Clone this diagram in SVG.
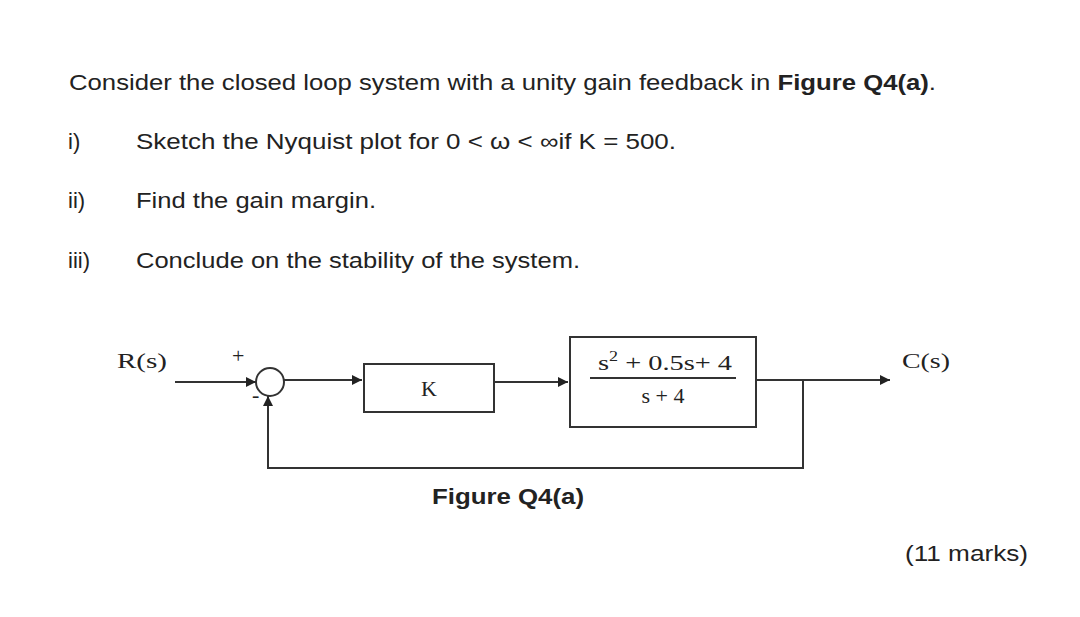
<svg xmlns="http://www.w3.org/2000/svg" width="1080" height="617" viewBox="0 0 1080 617">
<defs><marker id="a" viewBox="0 0 10 10" refX="10" refY="5" markerWidth="10" markerHeight="10" markerUnits="userSpaceOnUse" orient="auto"><path d="M0,0L10,5L0,10z" fill="#222"/></marker></defs>
<style>.t{font-family:"Liberation Sans",Arial,sans-serif;font-size:22px;fill:#222}.m{font-family:"Liberation Serif","Times New Roman",serif;font-size:22px;fill:#222}.b{fill:none;stroke:#333;stroke-width:2}.l{fill:none;stroke:#333;stroke-width:2}</style>
<rect width="1080" height="617" fill="#fff"/>
<text class="t" x="69" y="90" textLength="867" lengthAdjust="spacingAndGlyphs">Consider the closed loop system with a unity gain feedback in <tspan font-weight="bold">Figure Q4(a)</tspan>.</text>
<text class="t" x="68" y="149">i)</text><text class="t" x="136" y="149" textLength="540" lengthAdjust="spacingAndGlyphs">Sketch the Nyquist plot for 0 &lt; ω &lt; ∞if K = 500.</text>
<text class="t" x="68" y="208">ii)</text><text class="t" x="136" y="208" textLength="240" lengthAdjust="spacingAndGlyphs">Find the gain margin.</text>
<text class="t" x="68" y="268">iii)</text><text class="t" x="136" y="268" textLength="444" lengthAdjust="spacingAndGlyphs">Conclude on the stability of the system.</text>
<g id="labels"><text class="m" x="117" y="368" textLength="50" lengthAdjust="spacingAndGlyphs">R(s)</text><text class="m" x="902" y="368" textLength="48" lengthAdjust="spacingAndGlyphs">C(s)</text><text class="m" x="232" y="363" font-size="15">+</text><text class="m" x="252" y="402" font-size="15">-</text></g>
<g id="sum"><circle cx="270" cy="382" r="14" class="b"/></g>
<g id="K"><rect x="364" y="364" width="130" height="48" class="b"/><text class="m" x="429" y="396" text-anchor="middle">K</text></g>
<g id="G"><rect x="570" y="337" width="186" height="90" class="b"/><text class="m" x="598" y="370" textLength="134" lengthAdjust="spacingAndGlyphs">s<tspan dy="-9" font-size="14">2</tspan><tspan dy="9"> + 0.5s+ 4</tspan></text><line x1="590" y1="378" x2="736" y2="378" class="l"/><text class="m" x="663" y="403" text-anchor="middle">s + 4</text></g>
<text class="t" x="432" y="504" font-weight="bold" textLength="152" lengthAdjust="spacingAndGlyphs">Figure Q4(a)</text>
<text class="t" x="905" y="561" textLength="123" lengthAdjust="spacingAndGlyphs">(11 marks)</text>
<g id="connectors">
<line x1="175" y1="382" x2="256" y2="382" class="l" marker-end="url(#a)"/>
<line x1="284" y1="380" x2="362" y2="380" class="l" marker-end="url(#a)"/>
<line x1="494" y1="382" x2="568" y2="382" class="l" marker-end="url(#a)"/>
<line x1="756" y1="380" x2="890" y2="380" class="l" marker-end="url(#a)"/>
<polyline points="803,380 803,468 268,468 268,396" class="l" marker-end="url(#a)"/>
</g>
</svg>
